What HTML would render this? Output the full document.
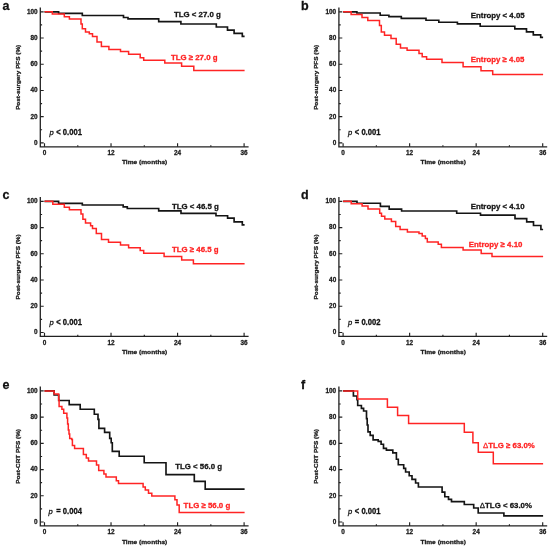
<!DOCTYPE html>
<html><head><meta charset="utf-8"><style>
html,body{margin:0;padding:0;background:#fff;}
body{width:550px;height:547px;overflow:hidden;}
svg{display:block;filter:blur(0.4px);font-family:"Liberation Sans", sans-serif;}
text{stroke-width:0.28px;}
</style></head><body>
<svg width="550" height="547" viewBox="0 0 550 547">
<rect width="550" height="547" fill="#fff"/>
<text x="2.5" y="9.9" font-size="12.5" font-weight="bold" fill="#111" stroke="#111">a</text>
<path d="M40.3 7.5V146.8H248.6" fill="none" stroke="#222" stroke-width="1.3"/>
<path d="M40.3 142.9H43.7M40.3 129.79H42.1M40.3 116.68H43.7M40.3 103.57H42.1M40.3 90.46H43.7M40.3 77.35H42.1M40.3 64.24H43.7M40.3 51.13H42.1M40.3 38.02H43.7M40.3 24.91H42.1M40.3 11.8H43.7M44.5 146.8V143.2M77.77 146.8V145.2M111.03 146.8V143.2M144.3 146.8V145.2M177.57 146.8V143.2M210.83 146.8V145.2M244.1 146.8V143.2" fill="none" stroke="#222" stroke-width="1.15"/>
<text x="37.6" y="144.8" font-size="6.4" font-weight="bold" text-anchor="end" fill="#1a1a1a" stroke="#1a1a1a">0</text>
<text x="37.6" y="118.58" font-size="6.4" font-weight="bold" text-anchor="end" fill="#1a1a1a" stroke="#1a1a1a">20</text>
<text x="37.6" y="92.36" font-size="6.4" font-weight="bold" text-anchor="end" fill="#1a1a1a" stroke="#1a1a1a">40</text>
<text x="37.6" y="66.14" font-size="6.4" font-weight="bold" text-anchor="end" fill="#1a1a1a" stroke="#1a1a1a">60</text>
<text x="37.6" y="39.92" font-size="6.4" font-weight="bold" text-anchor="end" fill="#1a1a1a" stroke="#1a1a1a">80</text>
<text x="37.6" y="13.7" font-size="6.4" font-weight="bold" text-anchor="end" fill="#1a1a1a" stroke="#1a1a1a">100</text>
<text x="44.5" y="155.2" font-size="6.4" font-weight="bold" text-anchor="middle" fill="#1a1a1a" stroke="#1a1a1a">0</text>
<text x="111.03" y="155.2" font-size="6.4" font-weight="bold" text-anchor="middle" fill="#1a1a1a" stroke="#1a1a1a">12</text>
<text x="177.57" y="155.2" font-size="6.4" font-weight="bold" text-anchor="middle" fill="#1a1a1a" stroke="#1a1a1a">24</text>
<text x="244.1" y="155.2" font-size="6.4" font-weight="bold" text-anchor="middle" fill="#1a1a1a" stroke="#1a1a1a">36</text>
<text transform="translate(144.6 164.4) scale(1.085 1)" font-size="6.1" font-weight="bold" text-anchor="middle" fill="#1a1a1a" stroke="#1a1a1a">Time (months)</text>
<text transform="translate(19.7 77.35) rotate(-90) scale(1.1 1)" font-size="5.8" font-weight="bold" text-anchor="middle" fill="#1a1a1a" stroke="#1a1a1a">Post-surgery PFS (%)</text>
<path d="M44.5 11.8H58.6V13.3H82.3V15.5H123.5V17.5H128V18.9H158.7V21.6H180.9V24H216.3V27H227.5V30.1H234.1V33.4H242.3V36.4H244.6" fill="none" stroke="#141414" stroke-width="1.65" stroke-linejoin="miter"/>
<path d="M44.5 11.8H52.3V13.9H64.3V16.8H69.4V19.1H81V24H82.3V28.7H85.5V31.9H89.3V33.8H92.5V36.4H97V42.1H101.4V46.6H108.9V49.6H120.5V51.6H128.6V54.3H140.2V57.7H143.7V60.2H164.8V63H181.6V66.3H193.8V70.5H244.6" fill="none" stroke="#ff2424" stroke-width="1.5" stroke-linejoin="miter"/>
<text x="174" y="17.2" font-size="7.85" font-weight="bold" fill="#141414" stroke="#141414">TLG &lt; 27.0 g</text>
<text x="170.9" y="59.6" font-size="7.85" font-weight="bold" fill="#ff2424" stroke="#ff2424">TLG ≥ 27.0 g</text>
<text x="49.5" y="135.2" font-size="7.6" font-style="italic" fill="#111" stroke="#111">p</text>
<text transform="translate(56.2 135.2) scale(0.92 1)" font-size="8.3" font-weight="bold" fill="#111" stroke="#111">&lt; 0.001</text>
<text x="301.1" y="9.9" font-size="12.5" font-weight="bold" fill="#111" stroke="#111">b</text>
<path d="M338.9 7.5V146.8H547.2" fill="none" stroke="#222" stroke-width="1.3"/>
<path d="M338.9 142.9H342.3M338.9 129.79H340.7M338.9 116.68H342.3M338.9 103.57H340.7M338.9 90.46H342.3M338.9 77.35H340.7M338.9 64.24H342.3M338.9 51.13H340.7M338.9 38.02H342.3M338.9 24.91H340.7M338.9 11.8H342.3M343.1 146.8V143.2M376.37 146.8V145.2M409.63 146.8V143.2M442.9 146.8V145.2M476.17 146.8V143.2M509.43 146.8V145.2M542.7 146.8V143.2" fill="none" stroke="#222" stroke-width="1.15"/>
<text x="336.2" y="144.8" font-size="6.4" font-weight="bold" text-anchor="end" fill="#1a1a1a" stroke="#1a1a1a">0</text>
<text x="336.2" y="118.58" font-size="6.4" font-weight="bold" text-anchor="end" fill="#1a1a1a" stroke="#1a1a1a">20</text>
<text x="336.2" y="92.36" font-size="6.4" font-weight="bold" text-anchor="end" fill="#1a1a1a" stroke="#1a1a1a">40</text>
<text x="336.2" y="66.14" font-size="6.4" font-weight="bold" text-anchor="end" fill="#1a1a1a" stroke="#1a1a1a">60</text>
<text x="336.2" y="39.92" font-size="6.4" font-weight="bold" text-anchor="end" fill="#1a1a1a" stroke="#1a1a1a">80</text>
<text x="336.2" y="13.7" font-size="6.4" font-weight="bold" text-anchor="end" fill="#1a1a1a" stroke="#1a1a1a">100</text>
<text x="343.1" y="155.2" font-size="6.4" font-weight="bold" text-anchor="middle" fill="#1a1a1a" stroke="#1a1a1a">0</text>
<text x="409.63" y="155.2" font-size="6.4" font-weight="bold" text-anchor="middle" fill="#1a1a1a" stroke="#1a1a1a">12</text>
<text x="476.17" y="155.2" font-size="6.4" font-weight="bold" text-anchor="middle" fill="#1a1a1a" stroke="#1a1a1a">24</text>
<text x="542.7" y="155.2" font-size="6.4" font-weight="bold" text-anchor="middle" fill="#1a1a1a" stroke="#1a1a1a">36</text>
<text transform="translate(443.2 164.4) scale(1.085 1)" font-size="6.1" font-weight="bold" text-anchor="middle" fill="#1a1a1a" stroke="#1a1a1a">Time (months)</text>
<text transform="translate(318.3 77.35) rotate(-90) scale(1.1 1)" font-size="5.8" font-weight="bold" text-anchor="middle" fill="#1a1a1a" stroke="#1a1a1a">Post-surgery PFS (%)</text>
<path d="M343.1 11.8H356.9V13H380.2V15.2H388.9V16.6H401.3V18.4H426V20.2H438.8V22.2H457.4V23.8H480.2V26.2H514.8V28.8H526.5V31.9H533.3V34.8H540.7V37.4H543.1" fill="none" stroke="#141414" stroke-width="1.65" stroke-linejoin="miter"/>
<path d="M343.1 11.8H351.1V14.5H362V17.6H367.8V20.6H379.5V25.4H381.3V31.9H384.5V35.3H391V38.5H396.2V44.3H400.5V47.9H407.1V50.2H419V53.5H422.2V56.7H426.6V59.3H442V62.5H463.1V66.8H481V70.8H492.7V74.4H543.1" fill="none" stroke="#ff2424" stroke-width="1.5" stroke-linejoin="miter"/>
<text x="470.8" y="18.3" font-size="7.85" font-weight="bold" fill="#141414" stroke="#141414">Entropy &lt; 4.05</text>
<text x="470.8" y="62.2" font-size="7.85" font-weight="bold" fill="#ff2424" stroke="#ff2424">Entropy ≥ 4.05</text>
<text x="348.1" y="135.2" font-size="7.6" font-style="italic" fill="#111" stroke="#111">p</text>
<text transform="translate(354.8 135.2) scale(0.92 1)" font-size="8.3" font-weight="bold" fill="#111" stroke="#111">&lt; 0.001</text>
<text x="2.5" y="199.45" font-size="12.5" font-weight="bold" fill="#111" stroke="#111">c</text>
<path d="M40.3 197.05V336.35H248.6" fill="none" stroke="#222" stroke-width="1.3"/>
<path d="M40.3 332.45H43.7M40.3 319.34H42.1M40.3 306.23H43.7M40.3 293.12H42.1M40.3 280.01H43.7M40.3 266.9H42.1M40.3 253.79H43.7M40.3 240.68H42.1M40.3 227.57H43.7M40.3 214.46H42.1M40.3 201.35H43.7M44.5 336.35V332.75M77.77 336.35V334.75M111.03 336.35V332.75M144.3 336.35V334.75M177.57 336.35V332.75M210.83 336.35V334.75M244.1 336.35V332.75" fill="none" stroke="#222" stroke-width="1.15"/>
<text x="37.6" y="334.35" font-size="6.4" font-weight="bold" text-anchor="end" fill="#1a1a1a" stroke="#1a1a1a">0</text>
<text x="37.6" y="308.13" font-size="6.4" font-weight="bold" text-anchor="end" fill="#1a1a1a" stroke="#1a1a1a">20</text>
<text x="37.6" y="281.91" font-size="6.4" font-weight="bold" text-anchor="end" fill="#1a1a1a" stroke="#1a1a1a">40</text>
<text x="37.6" y="255.69" font-size="6.4" font-weight="bold" text-anchor="end" fill="#1a1a1a" stroke="#1a1a1a">60</text>
<text x="37.6" y="229.47" font-size="6.4" font-weight="bold" text-anchor="end" fill="#1a1a1a" stroke="#1a1a1a">80</text>
<text x="37.6" y="203.25" font-size="6.4" font-weight="bold" text-anchor="end" fill="#1a1a1a" stroke="#1a1a1a">100</text>
<text x="44.5" y="344.75" font-size="6.4" font-weight="bold" text-anchor="middle" fill="#1a1a1a" stroke="#1a1a1a">0</text>
<text x="111.03" y="344.75" font-size="6.4" font-weight="bold" text-anchor="middle" fill="#1a1a1a" stroke="#1a1a1a">12</text>
<text x="177.57" y="344.75" font-size="6.4" font-weight="bold" text-anchor="middle" fill="#1a1a1a" stroke="#1a1a1a">24</text>
<text x="244.1" y="344.75" font-size="6.4" font-weight="bold" text-anchor="middle" fill="#1a1a1a" stroke="#1a1a1a">36</text>
<text transform="translate(144.6 353.95) scale(1.085 1)" font-size="6.1" font-weight="bold" text-anchor="middle" fill="#1a1a1a" stroke="#1a1a1a">Time (months)</text>
<text transform="translate(19.7 266.9) rotate(-90) scale(1.1 1)" font-size="5.8" font-weight="bold" text-anchor="middle" fill="#1a1a1a" stroke="#1a1a1a">Post-surgery PFS (%)</text>
<path d="M44.5 201.35H58.6V203.3H82.3V205H123.2V206.8H127.3V208.5H158.7V210.8H181V213.3H216V215.7H227.6V218.1H234.1V221.8H242.3V224.8H244.6" fill="none" stroke="#141414" stroke-width="1.65" stroke-linejoin="miter"/>
<path d="M44.5 201.35H52.8V204.2H64.3V207.2H69.4V209.7H81V214H82.9V219.3H85.5V222.9H90.6V225.7H92.5V228.5H96.3V233.4H101.5V239.4H108.5V242.3H120.5V245H128.6V247.7H140.2V250.5H143.7V253.2H164.1V256.5H181.7V260.1H193.4V263.7H244.6" fill="none" stroke="#ff2424" stroke-width="1.5" stroke-linejoin="miter"/>
<text x="172" y="208.6" font-size="7.85" font-weight="bold" fill="#141414" stroke="#141414">TLG &lt; 46.5 g</text>
<text x="172" y="252.4" font-size="7.85" font-weight="bold" fill="#ff2424" stroke="#ff2424">TLG ≥ 46.5 g</text>
<text x="49.5" y="324.75" font-size="7.6" font-style="italic" fill="#111" stroke="#111">p</text>
<text transform="translate(56.2 324.75) scale(0.92 1)" font-size="8.3" font-weight="bold" fill="#111" stroke="#111">&lt; 0.001</text>
<text x="301.1" y="199.45" font-size="12.5" font-weight="bold" fill="#111" stroke="#111">d</text>
<path d="M338.9 197.05V336.35H547.2" fill="none" stroke="#222" stroke-width="1.3"/>
<path d="M338.9 332.45H342.3M338.9 319.34H340.7M338.9 306.23H342.3M338.9 293.12H340.7M338.9 280.01H342.3M338.9 266.9H340.7M338.9 253.79H342.3M338.9 240.68H340.7M338.9 227.57H342.3M338.9 214.46H340.7M338.9 201.35H342.3M343.1 336.35V332.75M376.37 336.35V334.75M409.63 336.35V332.75M442.9 336.35V334.75M476.17 336.35V332.75M509.43 336.35V334.75M542.7 336.35V332.75" fill="none" stroke="#222" stroke-width="1.15"/>
<text x="336.2" y="334.35" font-size="6.4" font-weight="bold" text-anchor="end" fill="#1a1a1a" stroke="#1a1a1a">0</text>
<text x="336.2" y="308.13" font-size="6.4" font-weight="bold" text-anchor="end" fill="#1a1a1a" stroke="#1a1a1a">20</text>
<text x="336.2" y="281.91" font-size="6.4" font-weight="bold" text-anchor="end" fill="#1a1a1a" stroke="#1a1a1a">40</text>
<text x="336.2" y="255.69" font-size="6.4" font-weight="bold" text-anchor="end" fill="#1a1a1a" stroke="#1a1a1a">60</text>
<text x="336.2" y="229.47" font-size="6.4" font-weight="bold" text-anchor="end" fill="#1a1a1a" stroke="#1a1a1a">80</text>
<text x="336.2" y="203.25" font-size="6.4" font-weight="bold" text-anchor="end" fill="#1a1a1a" stroke="#1a1a1a">100</text>
<text x="343.1" y="344.75" font-size="6.4" font-weight="bold" text-anchor="middle" fill="#1a1a1a" stroke="#1a1a1a">0</text>
<text x="409.63" y="344.75" font-size="6.4" font-weight="bold" text-anchor="middle" fill="#1a1a1a" stroke="#1a1a1a">12</text>
<text x="476.17" y="344.75" font-size="6.4" font-weight="bold" text-anchor="middle" fill="#1a1a1a" stroke="#1a1a1a">24</text>
<text x="542.7" y="344.75" font-size="6.4" font-weight="bold" text-anchor="middle" fill="#1a1a1a" stroke="#1a1a1a">36</text>
<text transform="translate(443.2 353.95) scale(1.085 1)" font-size="6.1" font-weight="bold" text-anchor="middle" fill="#1a1a1a" stroke="#1a1a1a">Time (months)</text>
<text transform="translate(318.3 266.9) rotate(-90) scale(1.1 1)" font-size="5.8" font-weight="bold" text-anchor="middle" fill="#1a1a1a" stroke="#1a1a1a">Post-surgery PFS (%)</text>
<path d="M343.1 201.35H357V203.2H380.4V206.4H389.2V209.1H401.6V211H456.7V213.2H480.5V215.1H515V218.6H526.7V221.8H533.5V225.5H540.9V229.5H543.1" fill="none" stroke="#141414" stroke-width="1.65" stroke-linejoin="miter"/>
<path d="M343.1 201.35H351.2V203.8H362.1V206H368V208.9H379.7V213.3H381.5V216.2H384.8V219.1H391.4V221.6H395.7V226.4H400.1V229.4H407.4V231.9H419V233.5H422.2V236H425.4V238.5H427.3V242.1H438.2V244.3H441.4V247.5H463.1V250.1H481.2V253.4H492V256.5H543.1" fill="none" stroke="#ff2424" stroke-width="1.5" stroke-linejoin="miter"/>
<text x="470.7" y="208.5" font-size="7.85" font-weight="bold" fill="#141414" stroke="#141414">Entropy &lt; 4.10</text>
<text x="468.8" y="247.4" font-size="7.85" font-weight="bold" fill="#ff2424" stroke="#ff2424">Entropy ≥ 4.10</text>
<text x="348.1" y="324.75" font-size="7.6" font-style="italic" fill="#111" stroke="#111">p</text>
<text transform="translate(354.8 324.75) scale(0.92 1)" font-size="8.3" font-weight="bold" fill="#111" stroke="#111">= 0.002</text>
<text x="2.5" y="389" font-size="12.5" font-weight="bold" fill="#111" stroke="#111">e</text>
<path d="M40.3 386.6V525.9H248.6" fill="none" stroke="#222" stroke-width="1.3"/>
<path d="M40.3 522H43.7M40.3 508.89H42.1M40.3 495.78H43.7M40.3 482.67H42.1M40.3 469.56H43.7M40.3 456.45H42.1M40.3 443.34H43.7M40.3 430.23H42.1M40.3 417.12H43.7M40.3 404.01H42.1M40.3 390.9H43.7M44.5 525.9V522.3M77.77 525.9V524.3M111.03 525.9V522.3M144.3 525.9V524.3M177.57 525.9V522.3M210.83 525.9V524.3M244.1 525.9V522.3" fill="none" stroke="#222" stroke-width="1.15"/>
<text x="37.6" y="523.9" font-size="6.4" font-weight="bold" text-anchor="end" fill="#1a1a1a" stroke="#1a1a1a">0</text>
<text x="37.6" y="497.68" font-size="6.4" font-weight="bold" text-anchor="end" fill="#1a1a1a" stroke="#1a1a1a">20</text>
<text x="37.6" y="471.46" font-size="6.4" font-weight="bold" text-anchor="end" fill="#1a1a1a" stroke="#1a1a1a">40</text>
<text x="37.6" y="445.24" font-size="6.4" font-weight="bold" text-anchor="end" fill="#1a1a1a" stroke="#1a1a1a">60</text>
<text x="37.6" y="419.02" font-size="6.4" font-weight="bold" text-anchor="end" fill="#1a1a1a" stroke="#1a1a1a">80</text>
<text x="37.6" y="392.8" font-size="6.4" font-weight="bold" text-anchor="end" fill="#1a1a1a" stroke="#1a1a1a">100</text>
<text x="44.5" y="534.3" font-size="6.4" font-weight="bold" text-anchor="middle" fill="#1a1a1a" stroke="#1a1a1a">0</text>
<text x="111.03" y="534.3" font-size="6.4" font-weight="bold" text-anchor="middle" fill="#1a1a1a" stroke="#1a1a1a">12</text>
<text x="177.57" y="534.3" font-size="6.4" font-weight="bold" text-anchor="middle" fill="#1a1a1a" stroke="#1a1a1a">24</text>
<text x="244.1" y="534.3" font-size="6.4" font-weight="bold" text-anchor="middle" fill="#1a1a1a" stroke="#1a1a1a">36</text>
<text transform="translate(144.6 543.5) scale(1.085 1)" font-size="6.1" font-weight="bold" text-anchor="middle" fill="#1a1a1a" stroke="#1a1a1a">Time (months)</text>
<text transform="translate(19.7 456.45) rotate(-90) scale(1.1 1)" font-size="5.8" font-weight="bold" text-anchor="middle" fill="#1a1a1a" stroke="#1a1a1a">Post-CRT PFS (%)</text>
<path d="M44.5 390.9H54.1V395H58.7V400.5H69.2V404.6H80.2V409.2H94.3V414.2H98V419.3H98.9V428.4H104.6V432.4H109.7V438.3H111.2V442.7H112.3V451.4H119.2V456.2H144.2V462.7H166V474.6H194.3V481.4H205.2V489.1H244.6" fill="none" stroke="#141414" stroke-width="1.65" stroke-linejoin="miter"/>
<path d="M44.5 390.9H54.1V394.1H58.7V400H59.1V406.5H61.9V409.2H63.7V413.3H66.9V418H67.6V424H68.3V430H69V434H69.7V438.4H71.7V439.5H72.4V445.6H74.6V448.5H83.4V454.4H86.3V458H88.5V461H96.5V465H98.7V470.4H103.9V474.1H106V477H116.3V480.7H118.5V483.6H143.1V487H145.3V490H148.5V493.3H151.8V496.1H174.9V499.8H177V505H179.2V512.4H244.6" fill="none" stroke="#ff2424" stroke-width="1.5" stroke-linejoin="miter"/>
<text x="175.2" y="469.4" font-size="7.85" font-weight="bold" fill="#141414" stroke="#141414">TLG &lt; 56.0 g</text>
<text x="183.6" y="507.8" font-size="7.85" font-weight="bold" fill="#ff2424" stroke="#ff2424">TLG ≥ 56.0 g</text>
<text x="48.6" y="514.3" font-size="7.6" font-style="italic" fill="#111" stroke="#111">p</text>
<text transform="translate(56.2 514.3) scale(0.92 1)" font-size="8.3" font-weight="bold" fill="#111" stroke="#111">= 0.004</text>
<text x="301.1" y="389" font-size="12.5" font-weight="bold" fill="#111" stroke="#111">f</text>
<path d="M338.9 386.6V525.9H547.2" fill="none" stroke="#222" stroke-width="1.3"/>
<path d="M338.9 522H342.3M338.9 508.89H340.7M338.9 495.78H342.3M338.9 482.67H340.7M338.9 469.56H342.3M338.9 456.45H340.7M338.9 443.34H342.3M338.9 430.23H340.7M338.9 417.12H342.3M338.9 404.01H340.7M338.9 390.9H342.3M343.1 525.9V522.3M376.37 525.9V524.3M409.63 525.9V522.3M442.9 525.9V524.3M476.17 525.9V522.3M509.43 525.9V524.3M542.7 525.9V522.3" fill="none" stroke="#222" stroke-width="1.15"/>
<text x="336.2" y="523.9" font-size="6.4" font-weight="bold" text-anchor="end" fill="#1a1a1a" stroke="#1a1a1a">0</text>
<text x="336.2" y="497.68" font-size="6.4" font-weight="bold" text-anchor="end" fill="#1a1a1a" stroke="#1a1a1a">20</text>
<text x="336.2" y="471.46" font-size="6.4" font-weight="bold" text-anchor="end" fill="#1a1a1a" stroke="#1a1a1a">40</text>
<text x="336.2" y="445.24" font-size="6.4" font-weight="bold" text-anchor="end" fill="#1a1a1a" stroke="#1a1a1a">60</text>
<text x="336.2" y="419.02" font-size="6.4" font-weight="bold" text-anchor="end" fill="#1a1a1a" stroke="#1a1a1a">80</text>
<text x="336.2" y="392.8" font-size="6.4" font-weight="bold" text-anchor="end" fill="#1a1a1a" stroke="#1a1a1a">100</text>
<text x="343.1" y="534.3" font-size="6.4" font-weight="bold" text-anchor="middle" fill="#1a1a1a" stroke="#1a1a1a">0</text>
<text x="409.63" y="534.3" font-size="6.4" font-weight="bold" text-anchor="middle" fill="#1a1a1a" stroke="#1a1a1a">12</text>
<text x="476.17" y="534.3" font-size="6.4" font-weight="bold" text-anchor="middle" fill="#1a1a1a" stroke="#1a1a1a">24</text>
<text x="542.7" y="534.3" font-size="6.4" font-weight="bold" text-anchor="middle" fill="#1a1a1a" stroke="#1a1a1a">36</text>
<text transform="translate(443.2 543.5) scale(1.085 1)" font-size="6.1" font-weight="bold" text-anchor="middle" fill="#1a1a1a" stroke="#1a1a1a">Time (months)</text>
<text transform="translate(318.3 456.45) rotate(-90) scale(1.1 1)" font-size="5.8" font-weight="bold" text-anchor="middle" fill="#1a1a1a" stroke="#1a1a1a">Post-CRT PFS (%)</text>
<path d="M343.1 390.9H353.4V396H357V399.6H357.7V405.5H361.4V408.4H363.6V411H366.5V418.6H367.2V425H368V431.8H370.2V435.4H373.1V439.8H378.2V441.3H381.1V444.2H383.5V448.3H386.4V450.1H392.8V452.8H396.4V459.2H398.3V464.7H403.7V468.4H405.6V472H409.2V475.7H412V479.3H415.6V483H418.4V487H442.1V492.1H444.8V496.7H448.5V499.4H451.5V501.6H464.3V504.5H473.7V508H478.2V513H503.9V515.9H543.1" fill="none" stroke="#141414" stroke-width="1.65" stroke-linejoin="miter"/>
<path d="M343.1 390.9H357.7V398.9H387.4V407.2H397.6V415.4H408.6V423.5H464.3V432.3H472.9V442.8H478.3V452.3H493.3V463.8H543.1" fill="none" stroke="#ff2424" stroke-width="1.5" stroke-linejoin="miter"/>
<text x="483" y="448.3" font-size="7.85" font-weight="bold" fill="#ff2424" stroke="#ff2424"><tspan font-weight="normal">Δ</tspan>TLG ≥ 63.0%</text>
<text x="479.8" y="508.2" font-size="7.85" font-weight="bold" fill="#141414" stroke="#141414"><tspan font-weight="normal">Δ</tspan>TLG &lt; 63.0%</text>
<text x="348.1" y="514.3" font-size="7.6" font-style="italic" fill="#111" stroke="#111">p</text>
<text transform="translate(354.8 514.3) scale(0.92 1)" font-size="8.3" font-weight="bold" fill="#111" stroke="#111">&lt; 0.001</text>
</svg>
</body></html>
